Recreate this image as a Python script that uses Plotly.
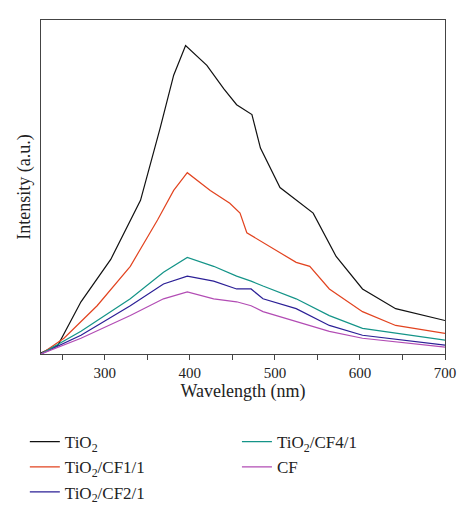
import plotly.graph_objects as go

names = ["TiO<sub>2</sub>", "TiO<sub>2</sub>/CF1/1", "TiO<sub>2</sub>/CF2/1", "TiO<sub>2</sub>/CF4/1", "CF"]
colors = ["#111111", "#e2431f", "#2b1f96", "#149488", "#b24cb4"]

wl_black = [225, 245, 272, 307, 342, 365, 381, 395, 420, 440, 455, 473, 483, 506, 545, 572, 603, 642, 700]
black = [1, 9, 53, 96, 156, 229, 283, 313, 293, 269, 253, 243, 209, 169, 143, 99, 66, 46, 34]
wl_red = [225, 252, 291, 330, 362, 381, 397, 424, 447, 459, 467, 486, 525, 541, 564, 603, 642, 700]
red = [0, 16, 49, 89, 136, 166, 184, 166, 153, 143, 123, 113, 93, 89, 66, 43, 29, 21]
wl_c = [225, 272, 330, 369, 397, 428, 455, 472, 486, 525, 564, 603, 700]
blue = [0, 19, 49, 71, 79, 74, 66, 66, 56, 46, 29, 19, 9]
teal = [0, 23, 56, 83, 98, 89, 79, 74, 69, 56, 39, 26, 14]
magenta = [0, 16, 39, 56, 63, 56, 53, 49, 43, 33, 23, 16, 7]

fig = go.Figure()
series = [(wl_black, black, "legend"), (wl_red, red, "legend"), (wl_c, blue, "legend"),
          (wl_c, teal, "legend2"), (wl_c, magenta, "legend2")]
for (x, y, lg), n, c in zip(series, names, colors):
    fig.add_trace(go.Scatter(x=x, y=y, mode="lines", name=n, legend=lg,
                             line=dict(color=c, width=1.2)))

font = dict(family="Liberation Serif, Times New Roman, serif", size=15, color="#222")
lfont = dict(family="Liberation Serif, Times New Roman, serif", size=17, color="#222")
fig.update_layout(
    width=474, height=514, margin=dict(l=33, r=37, t=12, b=158),
    paper_bgcolor="white", plot_bgcolor="white", font=font,
    xaxis=dict(range=[225, 700], tickvals=[300, 400, 500, 600, 700], ticks="outside",
               ticklen=5, showline=True, mirror=True, linecolor="#444", showgrid=False,
               zeroline=False, minor=dict(dtick=50, tick0=250, ticks="outside", ticklen=5),
               title=dict(text="Wavelength (nm)", standoff=4)),
    yaxis=dict(range=[0, 339], showticklabels=False, ticks="", showline=True, mirror=True,
               linecolor="#444", showgrid=False, zeroline=False,
               title=dict(text="Intensity (a.u.)", standoff=4)),
    legend=dict(x=-0.04, y=-0.21, xanchor="left", yanchor="top", tracegroupgap=0,
                bgcolor="rgba(0,0,0,0)", font=lfont),
    legend2=dict(x=0.485, y=-0.21, xanchor="left", yanchor="top", tracegroupgap=0,
                 bgcolor="rgba(0,0,0,0)", font=lfont),
)
fig.write_html("out.html")
